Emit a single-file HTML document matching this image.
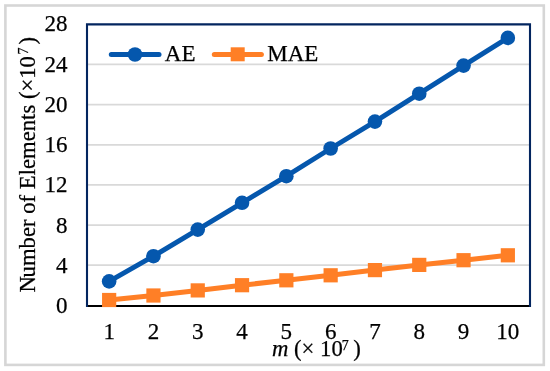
<!DOCTYPE html>
<html><head><meta charset="utf-8"><style>
html,body{margin:0;padding:0;background:#fff;width:550px;height:371px;overflow:hidden}
svg{display:block}
text{stroke:#000;stroke-width:0.25px}
</style></head><body>
<svg width="550" height="371" viewBox="0 0 550 371">
<rect x="5.4" y="5.5" width="538.4" height="359.4" fill="#fff" stroke="#d6d6d6" stroke-width="2.6"/>
<line x1="87" x2="530" y1="265.10" y2="265.10" stroke="#d9d9d9" stroke-width="1.7"/>
<line x1="87" x2="530" y1="225.20" y2="225.20" stroke="#d9d9d9" stroke-width="1.7"/>
<line x1="87" x2="530" y1="184.80" y2="184.80" stroke="#d9d9d9" stroke-width="1.7"/>
<line x1="87" x2="530" y1="144.80" y2="144.80" stroke="#d9d9d9" stroke-width="1.7"/>
<line x1="87" x2="530" y1="104.60" y2="104.60" stroke="#d9d9d9" stroke-width="1.7"/>
<line x1="87" x2="530" y1="64.30" y2="64.30" stroke="#d9d9d9" stroke-width="1.7"/>
<path d="M87 307 V24.4 H530 V307" fill="none" stroke="#03255f" stroke-width="2.1"/>
<line x1="88" x2="529" y1="306" y2="306" stroke="#000" stroke-width="2"/>
<polyline points="109.15,300 153.45,295.5 197.75,290.4 242.05,285.2 286.35,280.3 330.65,275.3 374.95,270.1 419.25,264.9 463.55,260.2 507.85,255.3" fill="none" stroke="#ff7f26" stroke-width="5" stroke-linejoin="round" stroke-linecap="round"/>
<rect x="102.05" y="292.90" width="14.2" height="14.2" fill="#ff7f26"/>
<rect x="146.35" y="288.40" width="14.2" height="14.2" fill="#ff7f26"/>
<rect x="190.65" y="283.30" width="14.2" height="14.2" fill="#ff7f26"/>
<rect x="234.95" y="278.10" width="14.2" height="14.2" fill="#ff7f26"/>
<rect x="279.25" y="273.20" width="14.2" height="14.2" fill="#ff7f26"/>
<rect x="323.55" y="268.20" width="14.2" height="14.2" fill="#ff7f26"/>
<rect x="367.85" y="263.00" width="14.2" height="14.2" fill="#ff7f26"/>
<rect x="412.15" y="257.80" width="14.2" height="14.2" fill="#ff7f26"/>
<rect x="456.45" y="253.10" width="14.2" height="14.2" fill="#ff7f26"/>
<rect x="500.75" y="248.20" width="14.2" height="14.2" fill="#ff7f26"/>
<polyline points="109.15,281.4 153.45,256.2 197.75,229.6 242.05,202.8 286.35,176.2 330.65,148.5 374.95,121.6 419.25,93.7 463.55,65.6 507.85,37.9" fill="none" stroke="#0557ad" stroke-width="5" stroke-linejoin="round" stroke-linecap="round"/>
<circle cx="109.15" cy="281.4" r="7.3" fill="#0557ad"/>
<circle cx="153.45" cy="256.2" r="7.3" fill="#0557ad"/>
<circle cx="197.75" cy="229.6" r="7.3" fill="#0557ad"/>
<circle cx="242.05" cy="202.8" r="7.3" fill="#0557ad"/>
<circle cx="286.35" cy="176.2" r="7.3" fill="#0557ad"/>
<circle cx="330.65" cy="148.5" r="7.3" fill="#0557ad"/>
<circle cx="374.95" cy="121.6" r="7.3" fill="#0557ad"/>
<circle cx="419.25" cy="93.7" r="7.3" fill="#0557ad"/>
<circle cx="463.55" cy="65.6" r="7.3" fill="#0557ad"/>
<circle cx="507.85" cy="37.9" r="7.3" fill="#0557ad"/>
<line x1="111.3" x2="159" y1="54.5" y2="54.5" stroke="#0557ad" stroke-width="5" stroke-linecap="round"/>
<circle cx="135" cy="54.5" r="7.3" fill="#0557ad"/>
<line x1="214.3" x2="261.4" y1="54.5" y2="54.5" stroke="#ff7f26" stroke-width="5" stroke-linecap="round"/>
<rect x="230.7" y="47.3" width="14" height="14" fill="#ff7f26"/>
<text x="164.8" y="61.3" style="font-family:'Liberation Serif','Times New Roman',serif;font-size:23.0px" fill="#000">AE</text>
<text x="267.2" y="61.3" style="font-family:'Liberation Serif','Times New Roman',serif;font-size:23.0px" fill="#000">MAE</text>
<text x="67.5" y="313.30" text-anchor="end" style="font-family:'Liberation Serif','Times New Roman',serif;font-size:23.0px" fill="#000">0</text>
<text x="67.5" y="273.01" text-anchor="end" style="font-family:'Liberation Serif','Times New Roman',serif;font-size:23.0px" fill="#000">4</text>
<text x="67.5" y="232.73" text-anchor="end" style="font-family:'Liberation Serif','Times New Roman',serif;font-size:23.0px" fill="#000">8</text>
<text x="67.5" y="192.44" text-anchor="end" style="font-family:'Liberation Serif','Times New Roman',serif;font-size:23.0px" fill="#000">12</text>
<text x="67.5" y="152.16" text-anchor="end" style="font-family:'Liberation Serif','Times New Roman',serif;font-size:23.0px" fill="#000">16</text>
<text x="67.5" y="111.87" text-anchor="end" style="font-family:'Liberation Serif','Times New Roman',serif;font-size:23.0px" fill="#000">20</text>
<text x="67.5" y="71.59" text-anchor="end" style="font-family:'Liberation Serif','Times New Roman',serif;font-size:23.0px" fill="#000">24</text>
<text x="67.5" y="31.30" text-anchor="end" style="font-family:'Liberation Serif','Times New Roman',serif;font-size:23.0px" fill="#000">28</text>
<text x="109.15" y="339" text-anchor="middle" style="font-family:'Liberation Serif','Times New Roman',serif;font-size:23.0px" fill="#000">1</text>
<text x="153.45" y="339" text-anchor="middle" style="font-family:'Liberation Serif','Times New Roman',serif;font-size:23.0px" fill="#000">2</text>
<text x="197.75" y="339" text-anchor="middle" style="font-family:'Liberation Serif','Times New Roman',serif;font-size:23.0px" fill="#000">3</text>
<text x="242.05" y="339" text-anchor="middle" style="font-family:'Liberation Serif','Times New Roman',serif;font-size:23.0px" fill="#000">4</text>
<text x="286.35" y="339" text-anchor="middle" style="font-family:'Liberation Serif','Times New Roman',serif;font-size:23.0px" fill="#000">5</text>
<text x="330.65" y="339" text-anchor="middle" style="font-family:'Liberation Serif','Times New Roman',serif;font-size:23.0px" fill="#000">6</text>
<text x="374.95" y="339" text-anchor="middle" style="font-family:'Liberation Serif','Times New Roman',serif;font-size:23.0px" fill="#000">7</text>
<text x="419.25" y="339" text-anchor="middle" style="font-family:'Liberation Serif','Times New Roman',serif;font-size:23.0px" fill="#000">8</text>
<text x="463.55" y="339" text-anchor="middle" style="font-family:'Liberation Serif','Times New Roman',serif;font-size:23.0px" fill="#000">9</text>
<text x="507.85" y="339" text-anchor="middle" style="font-family:'Liberation Serif','Times New Roman',serif;font-size:23.0px" fill="#000">10</text>
<text x="272" y="356" style="font-family:'Liberation Serif','Times New Roman',serif;font-size:22.7px" fill="#000"><tspan font-style="italic">m</tspan> (× 10<tspan dy="-6" dx="-1" font-size="14">7</tspan><tspan dy="6" dx="4.5">)</tspan></text>
<text transform="translate(35,292.6) rotate(-90)" style="font-family:'Liberation Serif','Times New Roman',serif;font-size:22.7px" fill="#000">N<tspan dx="-1.2">umber of Elements (×10</tspan><tspan dy="-7.5" dx="1.5" font-size="14">7</tspan><tspan dy="7.5" dx="3">)</tspan></text>
</svg>
</body></html>
